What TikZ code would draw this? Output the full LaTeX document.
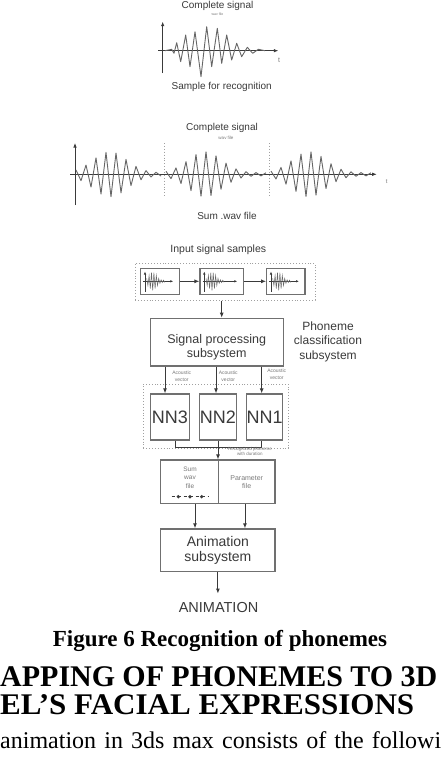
\documentclass[tikz,border=0pt]{standalone}
\usepackage{fontspec}
\usepackage{graphicx}
\setmainfont{Liberation Serif}
\newfontfamily\dgf{Liberation Sans}
\usetikzlibrary{arrows.meta,calc}
\definecolor{wavec}{HTML}{666666}
\definecolor{axc}{HTML}{3A3A3A}
\definecolor{boxc}{HTML}{707070}
\definecolor{txtc}{HTML}{3A3A3A}
\definecolor{ltxt}{HTML}{7A7A7A}
\definecolor{dotc}{HTML}{A0A0A0}
\begin{document}
\begin{tikzpicture}[x=1pt,y=-1pt,
  txt/.style={inner sep=0pt, text=txtc, align=center},
  ltx/.style={inner sep=0pt, text=ltxt, align=center},
  wave/.style={draw=wavec, line width=0.9pt, line join=round},
  minw/.style={draw=wavec, line width=0.5pt},
  axis/.style={draw=axc, line width=0.7pt, -{Latex[length=4.5pt,width=3.5pt]}},
  maxis/.style={draw=axc, line width=0.6pt, -{Latex[length=3pt,width=2.5pt]}},
  box/.style={draw=boxc, line width=1.3pt, fill=white, inner sep=0pt},
  dbox/.style={draw=dotc, line width=0.9pt, dotted, inner sep=0pt},
  arr/.style={draw=axc, line width=0.9pt, -{Latex[length=5pt,width=4pt]}},
  ln/.style={draw=axc, line width=0.9pt},
  sep/.style={draw=dotc, line width=0.9pt, dotted}]
\useasboundingbox (0,0) rectangle (440,782);
\fill[white] (0,0) rectangle (440,782);
\clip (0,0) rectangle (440,782);

% ---------- signal 1 ----------
\node[txt, font=\dgf\fontsize{10}{12}\selectfont] (cs1) at (217.5,5.5) {Complete signal};
\node[ltx, font=\dgf\fontsize{3.5}{4}\selectfont] (wf1) at (217.5,14) {wav file};
\draw[axis] (162.7,73) -- (162.7,21.7);
\draw[axis] (158,50.7) -- (278.3,50.7);
\node[ltx, font=\dgf\fontsize{7}{8}\selectfont] (t1) at (279,60) {t};
\draw[wave] plot coordinates {(165,50.7) (171.7,49.3) (174,53.3) (176.7,42.7) (180.7,61.7) (185.7,35) (190,66.7) (195,31.7) (201,76.7) (206.7,26.7) (211.7,66.7) (217.3,28.3) (221.7,63.3) (226.7,35) (231.7,60) (236.7,43.3) (241.7,56.7) (247.3,47.3) (252.7,53.3) (258.3,49.3) (265,50.7)};
\node[txt, font=\dgf\fontsize{10}{12}\selectfont] (sfr) at (221.7,87) {Sample for recognition};

% ---------- signal 2 ----------
\node[txt, font=\dgf\fontsize{10}{12}\selectfont] (cs2) at (222,128) {Complete signal};
\node[ltx, font=\dgf\fontsize{4.5}{5}\selectfont] (wf2) at (226,137.5) {wav file};
\draw[axis] (75,205) -- (75,143);
\draw[axis] (70,174.3) -- (376.7,174.3);
\node[ltx, font=\dgf\fontsize{6}{7}\selectfont] (t2) at (386.7,181.7) {t};
\draw[sep] (164.3,143) -- (164.3,198);
\draw[sep] (269,143) -- (269,198);
\draw[wave] plot[samples at={76,81,...,161}] (\x,{174.3-(1.5+21*exp(-((\x-110)/24)^2))*cos(36*(\x-76))});
\draw[wave] plot[samples at={166,171,...,266}] (\x,{174.3-(1.5+21*exp(-((\x-205)/24)^2))*cos(36*(\x-166))});
\draw[wave] plot[samples at={271,276,...,371}] (\x,{174.3-(1.5+21*exp(-((\x-309)/24)^2))*cos(36*(\x-271))});
\node[txt, font=\dgf\fontsize{10}{12}\selectfont] (swv) at (227,216) {Sum .wav file};

% ---------- input samples ----------
\node[txt, font=\dgf\fontsize{10.5}{12}\selectfont] (iss) at (218.3,250) {Input signal samples};
\node[dbox, minimum width=180pt, minimum height=36.7pt] (inbox) at (225,281.7) {};
\node[box, minimum width=38.6pt, minimum height=26pt] (s1) at (160,281.3) {};
\node[box, minimum width=43.3pt, minimum height=26pt] (s2) at (221.7,281.3) {};
\node[box, minimum width=38.3pt, minimum height=26pt] (s3) at (285.9,281.3) {};
\draw[arr] (s1.east) -- (s2.west);
\draw[arr] (s2.east) -- (s3.west);
\foreach \L/\W in {140.7/38.6,200/43.3,266.7/38.3}{
  \begin{scope}[shift={(\L,0)}]
    \draw[maxis] (4.3,291.5) -- (4.3,271.5);
    \draw[maxis] (2.5,281.3) -- (\W-6,281.3);
    \draw[minw] plot[samples at={6,7.2,...,25}] (\x,{281.3-(1+8*exp(-((\x-12)/5)^2))*cos(150*(\x-6))});
  \end{scope}
}

% ---------- signal processing ----------
\node[box, minimum width=132.6pt, minimum height=47.7pt] (sp) at (217,342.2) {};
\node[txt, font=\dgf\fontsize{12.5}{14}\selectfont] (spt) at (216.7,347) {Signal processing\\subsystem};
\node[txt, font=\dgf\fontsize{12}{14.5}\selectfont] (pcs) at (328,341.5) {Phoneme\\classification\\subsystem};
\draw[arr] (s2 |- inbox.south) -- (s2 |- sp.north);

% ---------- neural networks ----------
\node[dbox, minimum width=145pt, minimum height=64.3pt] (nnbox) at (215.8,416.2) {};
\node[box, minimum width=38.6pt, minimum height=46pt, text=txtc, font=\dgf\fontsize{18}{20}\selectfont] (nn3) at (170,417) {NN3};
\node[box, minimum width=37.4pt, minimum height=46pt, text=txtc, font=\dgf\fontsize{18}{20}\selectfont] (nn2) at (218,417) {NN2};
\node[box, minimum width=36pt, minimum height=46pt, text=txtc, font=\dgf\fontsize{18}{20}\selectfont] (nn1) at (264.7,417) {NN1};
\coordinate (a3) at ($(nn3.north)+(-5,0)$);
\coordinate (a2) at ($(nn2.north)+(-2,0)$);
\coordinate (a1) at ($(nn1.north)+(-3,0)$);
\draw[arr] (a3 |- sp.south) -- (a3);
\draw[arr] (a2 |- sp.south) -- (a2);
\draw[arr] (a1 |- sp.south) -- (a1);
\node[ltx, font=\dgf\fontsize{5}{7}\selectfont] (av3) at (181.7,376.5) {Acoustic\\vector};
\node[ltx, font=\dgf\fontsize{5}{7}\selectfont] (av2) at (228.3,376.5) {Acoustic\\vector};
\node[ltx, font=\dgf\fontsize{5}{7}\selectfont] (av1) at (276.7,374) {Acoustic\\vector};

% ---------- files ----------
\node[box, minimum width=57.6pt, minimum height=43.3pt] (sumf) at (189.5,481.7) {};
\node[box, minimum width=56.7pt, minimum height=43.3pt] (parf) at (246.65,481.7) {};
\node[ltx, font=\dgf\fontsize{6.5}{8.5}\selectfont] (swf) at (190,477.5) {Sum\\wav\\file};
\node[ltx, font=\dgf\fontsize{7}{8.5}\selectfont] (pft) at (246.7,482) {Parameter\\file};
\draw[draw=axc, line width=0.6pt, dashed] (171.7,496.7) -- (208.3,496.7);
\foreach \m in {178.3,190,201.7}{\fill[axc] (\m,496.7) circle (1.8pt);}
\coordinate (b3) at ($(nn3.south)+(5,0)$);
\coordinate (b1) at ($(nn1.south)+(-3,0)$);
\draw[ln] (b3) -- ++(0,6.7) -| (b1);
\draw[arr] (nn2.south) -- (nn2.south |- sumf.north);
\node[ltx, font=\dgf\fontsize{4.5}{5}\selectfont] (rpd) at (250,451) {Recognized phoneme\\with duration};

% ---------- animation ----------
\node[box, minimum width=114.3pt, minimum height=42.7pt, text=txtc, align=center, font=\dgf\fontsize{14}{15}\selectfont] (anim) at (217.9,550.3) {Animation\\subsystem};
\coordinate (fl) at ($(sumf.south)+(5.5,0)$);
\coordinate (fr) at ($(parf.south)+(-1.7,0)$);
\draw[arr] (fl) -- (fl |- anim.north);
\draw[arr] (fr) -- (fr |- anim.north);
\node[txt, outer ysep=9pt, font=\dgf\fontsize{14.5}{16}\selectfont] (out) at (218.5,607.7) {ANIMATION};
\draw[arr] (anim.south) -- (anim.south |- out.north);

% ---------- page text ----------
\node[inner sep=0pt, font=\bfseries\fontsize{23}{27}\selectfont] (cap) at (220,641) {Figure 6 Recognition of phonemes};
\node[inner sep=0pt, anchor=west, font=\bfseries\fontsize{30}{34}\selectfont] (h1) at (0,676.7) {\makebox[437pt][s]{APPING OF PHONEMES TO 3D}};
\node[inner sep=0pt, anchor=west, font=\bfseries\fontsize{30}{34}\selectfont] (h2) at (0,705) {\scalebox{1.035}[1]{EL’S FACIAL EXPRESSIONS}};
\node[inner sep=0pt, anchor=base west, font=\fontsize{24}{28}\selectfont] (body) at (0,748.3) {\makebox[441pt][s]{animation in 3ds max consists of the followi}};
\end{tikzpicture}
\end{document}
